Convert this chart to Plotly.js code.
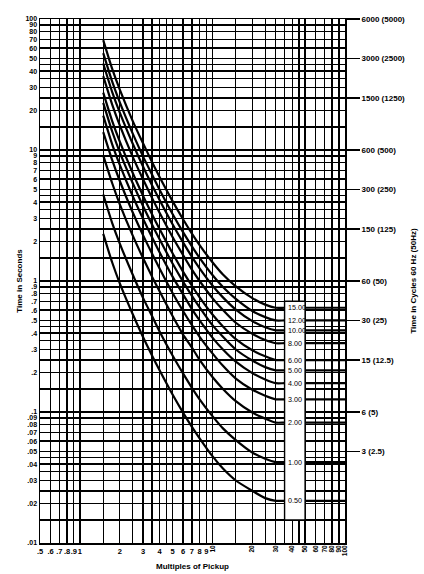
<!DOCTYPE html>
<html><head><meta charset="utf-8">
<script src="https://cdn.plot.ly/plotly-3.0.1.min.js"></script>
<style>html,body{margin:0;padding:0;background:#fff}#chart{width:424px;height:574px}</style>
</head><body><div id="chart"></div>
<script>
// ---- data ----
const multiples = [1.5, 1.75, 2, 2.5, 3, 3.5, 4, 5, 6, 7, 8, 10, 12, 15, 20, 25, 30, 35, 50, 100];
const dialLabels = ['0.50', '1.00', '2.00', '3.00', '4.00', '5.00', '6.00', '8.00', '10.00', '12.00', '15.00'];
const td050 = [2.29, 1.39, 0.96, 0.56, 0.372, 0.27, 0.207, 0.136, 0.099, 0.077, 0.063, 0.046, 0.037, 0.030, 0.025, 0.022, 0.021, 0.021, 0.021, 0.021];
const td100 = [4.57, 2.78, 1.93, 1.12, 0.74, 0.54, 0.41, 0.27, 0.197, 0.153, 0.125, 0.093, 0.075, 0.061, 0.049, 0.044, 0.0415, 0.0415, 0.0415, 0.0415];
const td200 = [9.1, 5.6, 3.85, 2.23, 1.49, 1.08, 0.83, 0.54, 0.39, 0.31, 0.25, 0.185, 0.15, 0.121, 0.099, 0.089, 0.083, 0.083, 0.083, 0.083];
const td300 = [13.7, 8.4, 5.8, 3.35, 2.23, 1.62, 1.24, 0.81, 0.59, 0.46, 0.375, 0.28, 0.225, 0.18, 0.148, 0.133, 0.125, 0.125, 0.125, 0.125];
const td400 = [18.3, 11.1, 7.7, 4.46, 2.98, 2.16, 1.65, 1.08, 0.79, 0.61, 0.50, 0.37, 0.30, 0.242, 0.198, 0.177, 0.166, 0.166, 0.166, 0.166];
const td500 = [22.9, 13.9, 9.6, 5.6, 3.72, 2.7, 2.07, 1.36, 0.99, 0.77, 0.63, 0.46, 0.375, 0.30, 0.247, 0.22, 0.208, 0.208, 0.208, 0.208];
const td600 = [27.4, 16.7, 11.6, 6.7, 4.46, 3.23, 2.48, 1.63, 1.18, 0.92, 0.75, 0.555, 0.45, 0.36, 0.296, 0.266, 0.249, 0.249, 0.249, 0.249];
const td800 = [36.6, 22.3, 15.4, 8.9, 5.95, 4.31, 3.3, 2.17, 1.58, 1.22, 1.0, 0.74, 0.60, 0.48, 0.395, 0.354, 0.335, 0.335, 0.335, 0.335];
const td1000 = [45.7, 27.8, 19.3, 11.2, 7.44, 5.39, 4.13, 2.71, 1.97, 1.53, 1.25, 0.925, 0.75, 0.605, 0.494, 0.443, 0.42, 0.42, 0.42, 0.42];
const td1200 = [54.9, 33.4, 23.1, 13.4, 8.9, 6.5, 4.96, 3.25, 2.36, 1.84, 1.5, 1.11, 0.90, 0.73, 0.59, 0.53, 0.50, 0.50, 0.50, 0.50];
const td1500 = [69, 41.8, 28.9, 16.7, 11.2, 8.1, 6.2, 4.07, 2.96, 2.3, 1.88, 1.39, 1.12, 0.91, 0.74, 0.66, 0.625, 0.625, 0.625, 0.625];
const dialCurves = [td050, td100, td200, td300, td400, td500, td600, td800, td1000, td1200, td1500];

// ---- tick / grid labels ----
const xGrid = [0.5,0.6,0.7,0.8,0.9,1,1.5,2,2.5,3,3.5,4,4.5,5,6,7,8,9,10,15,20,25,30,35,40,45,50,60,70,80,90,100];
const xGridLabels = ['.5','.6','.7','.8','.9','1','','2','','3','','4','','5','6','7','8','9','','','','','','','','','','','','','',''];
const xUpperTicks = [10,20,30,40,50,60,70,80,90,100];
const xUpperLabels = ['10','20','30','40','50','60','70','80','90','100'];
const yGrid = [0.01,0.015,0.02,0.025,0.03,0.035,0.04,0.045,0.05,0.06,0.07,0.08,0.09,
  0.1,0.15,0.2,0.25,0.3,0.35,0.4,0.45,0.5,0.6,0.7,0.8,0.9,
  1,1.5,2,2.5,3,3.5,4,4.5,5,6,7,8,9,
  10,15,20,25,30,35,40,45,50,60,70,80,90,100];
const yGridLabels = ['.01','','.02','','.03','','.04','','.05','.06','.07','.08','.09',
  '.1','','.2','','.3','','.4','','.5','.6','.7','.8','.9',
  '1','','2','','3','','4','','5','6','7','8','9',
  '10','','20','','30','','40','','50','60','70','80','90','100'];
const cycleSeconds = [100, 50, 25, 10, 5, 2.5, 1, 0.5, 0.25, 0.1, 0.05];
const cycleLabels = ['6000 (5000)','3000 (2500)','1500 (1250)','600 (500)','300 (250)','150 (125)','60 (50)','30 (25)','15 (12.5)','6 (5)','3 (2.5)'];

// ---- build ----
const FONT = "'Liberation Sans Narrow', 'Liberation Sans', Arial, sans-serif";
const traces = dialCurves.map((vals, i) => ({
  x: multiples, y: vals, type: 'scatter', mode: 'lines',
  line: {color: '#000', width: 2.2, shape: 'spline', smoothing: 0.6},
  name: dialLabels[i], hoverinfo: 'skip', showlegend: false
}));
// white label box (covers grid between 35 and 50)
traces.push({
  x: [35, 50, 50, 35, 35], y: [0.015, 0.015, 0.7, 0.7, 0.015],
  type: 'scatter', mode: 'lines', fill: 'toself', fillcolor: '#fff',
  line: {color: '#000', width: 1.4}, hoverinfo: 'skip', showlegend: false
});
// anchors for overlay axes
traces.push({x: [1], y: [1], xaxis: 'x2', yaxis: 'y', mode: 'markers', marker: {opacity: 0}, hoverinfo: 'skip', showlegend: false});
traces.push({x: [1], y: [1], xaxis: 'x', yaxis: 'y2', mode: 'markers', marker: {opacity: 0}, hoverinfo: 'skip', showlegend: false});

const endIdx = multiples.indexOf(30);
const annotations = dialCurves.map((vals, i) => ({
  x: Math.log10(35.9), y: Math.log10(vals[endIdx]), xref: 'x', yref: 'y',
  text: dialLabels[i], showarrow: false, xanchor: 'left', yanchor: 'middle',
  font: {family: FONT, size: 7.2, color: '#000'}
}));

const gridCommon = {type: 'log', showgrid: true, gridcolor: '#000', gridwidth: 1.3,
  zeroline: false, showline: true, linecolor: '#000', linewidth: 1.5, mirror: true, ticks: ''};

const layout = {
  width: 424, height: 574,
  margin: {l: 40, r: 79, t: 19, b: 31},
  paper_bgcolor: '#fff', plot_bgcolor: '#fff',
  font: {family: FONT, color: '#000', size: 8},
  showlegend: false,
  xaxis: Object.assign({}, gridCommon, {
    range: [Math.log10(0.5), 2], tickmode: 'array', tickvals: xGrid, ticktext: xGridLabels,
    tickangle: 0, tickfont: {family: FONT, size: 7.5, weight: 'bold'}, automargin: false,
    title: {text: 'Multiples of Pickup', font: {family: FONT, size: 8, weight: 'bold'}, standoff: 9}
  }),
  xaxis2: {
    type: 'log', overlaying: 'x', anchor: 'y', side: 'bottom', range: [Math.log10(0.5), 2],
    tickmode: 'array', tickvals: xUpperTicks, ticktext: xUpperLabels, tickangle: -90,
    tickfont: {family: FONT, size: 6.5, weight: 'bold'}, showgrid: false, zeroline: false,
    showline: false, ticks: '', automargin: false
  },
  yaxis: Object.assign({}, gridCommon, {
    range: [-2, 2], tickmode: 'array', tickvals: yGrid, ticktext: yGridLabels,
    tickfont: {family: FONT, size: 7, weight: 'bold'}, automargin: false, ticklabelstandoff: 0,
    title: {text: 'Time in Seconds', font: {family: FONT, size: 8, weight: 'bold'}, standoff: 1}
  }),
  yaxis2: {
    type: 'log', overlaying: 'y', anchor: 'x', side: 'right', range: [-2, 2],
    tickmode: 'array', tickvals: cycleSeconds, ticktext: cycleLabels,
    ticks: 'outside', ticklen: 14, tickwidth: 1.4, tickcolor: '#000',
    tickfont: {family: FONT, size: 8, weight: 'bold'}, showgrid: false, zeroline: false, showline: false,
    automargin: false,
    title: {text: 'Time in Cycles 60 Hz (50Hz)', font: {family: FONT, size: 8, weight: 'bold'}, standoff: 6}
  },
  annotations: annotations
};

Plotly.newPlot('chart', traces, layout, {staticPlot: true, displayModeBar: false});
</script>
</body></html>
